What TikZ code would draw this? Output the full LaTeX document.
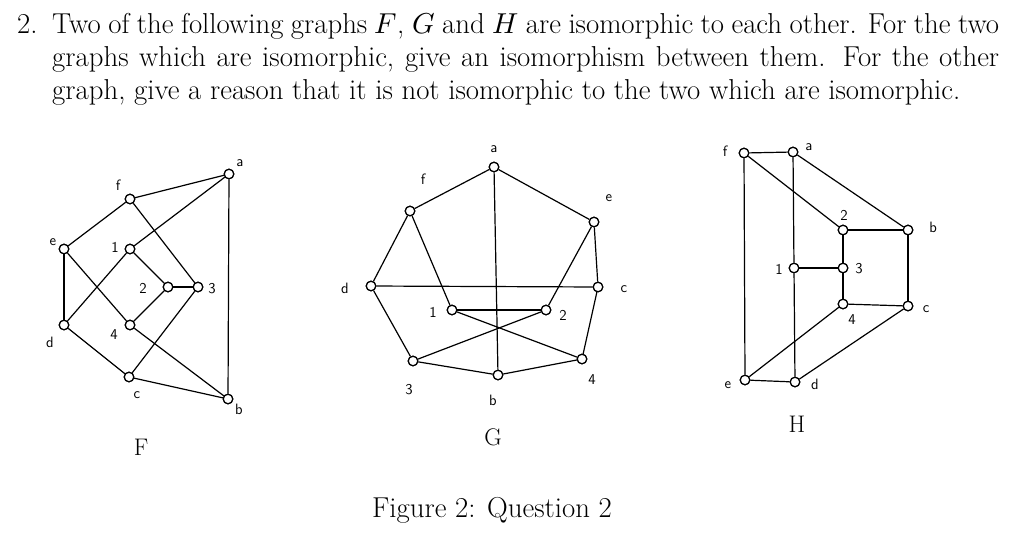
\documentclass[tikz,border=0pt]{standalone}
\usepackage{fontspec}
\usepackage{unicode-math}
\begin{document}
\begin{tikzpicture}[x=1pt,y=-1pt,
  v/.style={circle,draw,fill=white,inner sep=0pt,minimum size=9.5pt,line width=1.2pt},
  e/.style={line width=1.2pt},
  lab/.style={font=\sffamily\fontsize{15}{16}\selectfont,inner sep=0pt},
  big/.style={font=\fontsize{24}{26}\selectfont,inner sep=0pt},
  hd/.style={font=\fontsize{28.8}{33}\selectfont,inner sep=0pt,anchor=base west}]
\useasboundingbox (0,0) rectangle (1024,549);
% header
\node[hd] (n2) at (17,33) {2.};
\node[hd] (l1) at (52,33) {\makebox[947pt][s]{Two of the following graphs $F$, $G$ and $H$ are isomorphic to each other. For the two}};
\node[hd] (l2) at (52,66) {\makebox[947pt][s]{graphs which are isomorphic, give an isomorphism between them. For the other}};
\node[hd] (l3) at (52,99) {graph, give a reason that it is not isomorphic to the two which are isomorphic.};
% F
\node[v] (Fa) at (229,174) {}; \node[v] (Ff) at (130,199) {}; \node[v] (Fe) at (64,249) {};
\node[v] (F1) at (130,249) {}; \node[v] (F2) at (168,287) {}; \node[v] (F3) at (198,287) {};
\node[v] (Fd) at (64,325) {}; \node[v] (F4) at (130,325) {}; \node[v] (Fc) at (129,377) {};
\node[v] (Fb) at (228,399) {};
\foreach \p/\q in {Ff/Fa,Ff/Fe,Ff/F3,Fa/F1,Fa/Fb,Fe/Fd,Fe/F4,F1/Fd,F1/F2,F2/F3,F2/F4,F3/Fc,Fd/Fc,F4/Fb,Fc/Fb}
  \draw[e] (\p) -- (\q);
\node[v] at (Fa) {}; \node[v] at (Ff) {}; \node[v] at (Fe) {}; \node[v] at (F1) {}; \node[v] at (F2) {};
\node[v] at (F3) {}; \node[v] at (Fd) {}; \node[v] at (F4) {}; \node[v] at (Fc) {}; \node[v] at (Fb) {};
\node[lab] at (240,163) {a}; \node[lab] at (118,185) {f}; \node[lab] at (53,242) {e};
\node[lab] at (115,247) {1}; \node[lab] at (143,288) {2}; \node[lab] at (212,289) {3};
\node[lab] at (50,342) {d}; \node[lab] at (114,335) {4}; \node[lab] at (137,395) {c};
\node[lab] at (239,409) {b};
\node[big] (FF) at (141,447) {F};
% G
\node[v] (Ga) at (494,167) {}; \node[v] (Gf) at (410,211) {}; \node[v] (Ge) at (594,222) {};
\node[v] (Gd) at (371,286) {}; \node[v] (Gc) at (598,287) {}; \node[v] (G1) at (452,310) {};
\node[v] (G2) at (546,310) {}; \node[v] (G3) at (413,361) {}; \node[v] (G4) at (582,359) {};
\node[v] (Gb) at (498,375) {};
\foreach \p/\q in {Ga/Gf,Ga/Ge,Ga/Gb,Gf/Gd,Gf/G1,Ge/Gc,Ge/G2,Gd/Gc,Gd/G3,Gc/G4,G1/G2,G1/G4,G2/G3,G3/Gb,G4/Gb}
  \draw[e] (\p) -- (\q);
\node[v] at (Ga) {}; \node[v] at (Gf) {}; \node[v] at (Ge) {}; \node[v] at (Gd) {}; \node[v] at (Gc) {};
\node[v] at (G1) {}; \node[v] at (G2) {}; \node[v] at (G3) {}; \node[v] at (G4) {}; \node[v] at (Gb) {};
\node[lab] at (494,149) {a}; \node[lab] at (423,179) {f}; \node[lab] at (609,198) {e};
\node[lab] at (345,288) {d}; \node[lab] at (624,289) {c}; \node[lab] at (433,312) {1};
\node[lab] at (563,315) {2}; \node[lab] at (409,390) {3}; \node[lab] at (592,380) {4};
\node[lab] at (493,400) {b};
\node[big] (GG) at (493,437) {G};
% H
\node[v] (Hf) at (744,153) {}; \node[v] (Ha) at (793,152) {}; \node[v] (H2) at (843,230) {};
\node[v] (Hb) at (908,230) {}; \node[v] (H1) at (794,268) {}; \node[v] (H3) at (843,268) {};
\node[v] (H4) at (843,304) {}; \node[v] (Hc) at (908,306) {}; \node[v] (He) at (745,380) {};
\node[v] (Hd) at (795,382) {};
\foreach \p/\q in {Hf/Ha,Hf/He,Hf/H2,Ha/H1,Ha/Hb,H2/Hb,H2/H3,H1/H3,H1/Hd,H3/H4,H4/Hc,H4/He,Hb/Hc,Hc/Hd,He/Hd}
  \draw[e] (\p) -- (\q);
\node[v] at (Hf) {}; \node[v] at (Ha) {}; \node[v] at (H2) {}; \node[v] at (Hb) {}; \node[v] at (H1) {};
\node[v] at (H3) {}; \node[v] at (H4) {}; \node[v] at (Hc) {}; \node[v] at (He) {}; \node[v] at (Hd) {};
\node[lab] at (725,151) {f}; \node[lab] at (809,147) {a}; \node[lab] at (844,215) {2};
\node[lab] at (933,227) {b}; \node[lab] at (779,269) {1}; \node[lab] at (859,269) {3};
\node[lab] at (852,320) {4}; \node[lab] at (926,309) {c}; \node[lab] at (728,385) {e};
\node[lab] at (815,384) {d};
\node[big] (HH) at (797,424) {H};
\node[font=\fontsize{28.8}{33}\selectfont,inner sep=0pt] (cap) at (492,510) {Figure 2: Question 2};
\end{tikzpicture}
\end{document}
